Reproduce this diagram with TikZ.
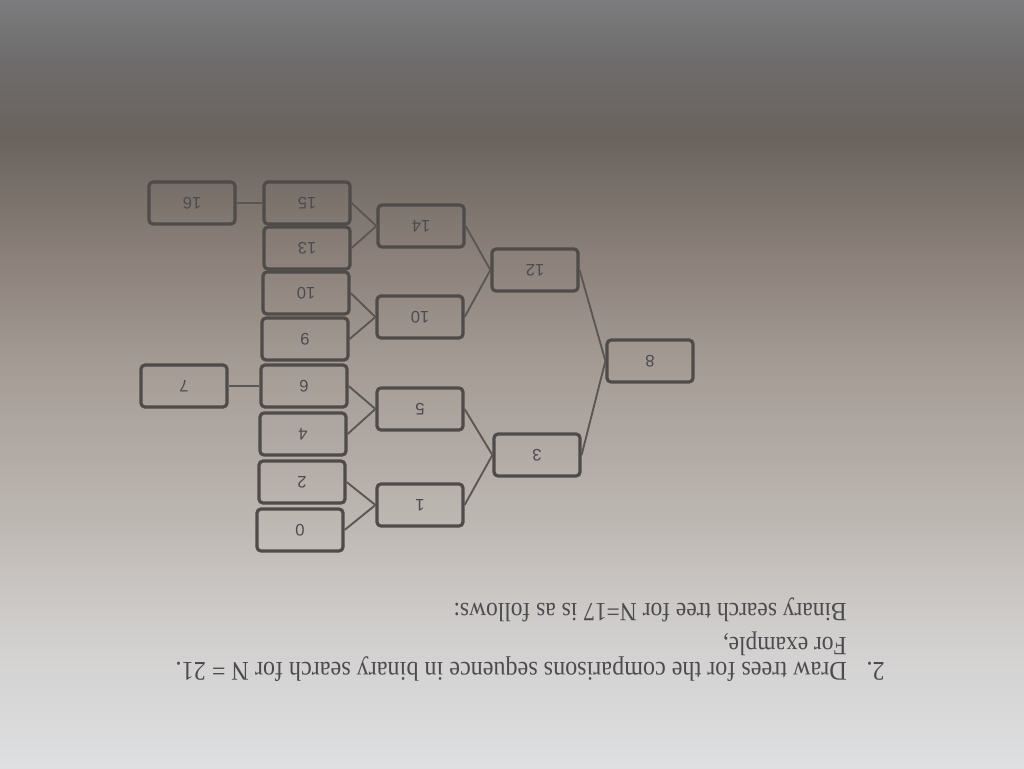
\documentclass[tikz,border=0pt]{standalone}
\usepackage{fontspec}
\setmainfont{Liberation Serif}
\newfontfamily\boxfont{Liberation Sans}
\definecolor{boxgray}{HTML}{4E4B49}
\definecolor{linegray}{HTML}{5A5653}
\definecolor{inkgray}{HTML}{4C4C50}
\pgfdeclareverticalshading{pagebg}{100bp}{%
  color(0bp)=(rgb,255:red,222;green,223;blue,225);
  color(25bp)=(rgb,255:red,222;green,223;blue,225);
  color(33.3bp)=(rgb,255:red,210;green,208;blue,207);
  color(41.1bp)=(rgb,255:red,189;green,183;blue,178);
  color(51.6bp)=(rgb,255:red,163;green,154;blue,147);
  color(59bp)=(rgb,255:red,136;green,126;blue,119);
  color(66bp)=(rgb,255:red,106;green,99;blue,94);
  color(71bp)=(rgb,255:red,110;green,108;blue,108);
  color(75bp)=(rgb,255:red,124;green,124;blue,126);
  color(100bp)=(rgb,255:red,124;green,124;blue,126)}
\tikzset{
  numbox/.style={draw=boxgray, line width=2.4pt, rounded corners=3pt,
    minimum width=64.5pt, minimum height=31.5pt, rotate=180,
    text=inkgray, font=\boxfont\fontsize{12.5}{14}\selectfont},
  branch/.style={draw=linegray, line width=1.4pt},
  pagetext/.style={rotate=180, yscale=1.12, anchor=base west, inner sep=0pt,
    text=inkgray, font=\fontsize{17.6}{20}\selectfont}
}
\begin{document}
\begin{tikzpicture}[x=0.75pt,y=-0.75pt]
  \useasboundingbox (0,0) rectangle (1024,768);
  \shade[shading=pagebg] (0,0) rectangle (1024,768);
  % the page is photographed upside down
  \node[pagetext, font=\fontsize{18.1}{20}\selectfont] (item) at (885,662) {\makebox[28.5pt][l]{2.}Draw trees for the comparisons sequence in binary search for N = 21.};
  \node[pagetext] (ex) at (847,637) {For example,};
  \node[pagetext] (intro) at (847,603) {Binary search tree for N=17 is as follows:};
  % tree
  \node[numbox] (n8) at (650,361) {8};
  \node[numbox] (n3) at (537,455) {3};
  \node[numbox] (n12) at (535,270) {12};
  \node[numbox] (n1) at (420,505) {1};
  \node[numbox] (n5) at (420,409) {5};
  \node[numbox] (n10) at (420,317) {10};
  \node[numbox] (n14) at (421,226) {14};
  \node[numbox] (n0) at (300,530) {0};
  \node[numbox] (n2) at (302,482) {2};
  \node[numbox] (n4) at (303,434) {4};
  \node[numbox] (n6) at (304,386) {6};
  \node[numbox] (n9) at (305,339) {9};
  \node[numbox] (n10leaf) at (306,293) {10};
  \node[numbox] (n13) at (307,248) {13};
  \node[numbox] (n15) at (307,203) {15};
  \node[numbox] (n7) at (184,386) {7};
  \node[numbox] (n16) at (192,203) {16};
  \draw[branch] (n3.west) -- (n8.east) -- (n12.west);
  \draw[branch] (n1.west) -- (n3.east) -- (n5.west);
  \draw[branch] (n10.west) -- (n12.east) -- (n14.west);
  \draw[branch] (n0.west) -- (n1.east) -- (n2.west);
  \draw[branch] (n4.west) -- (n5.east) -- (n6.west);
  \draw[branch] (n9.west) -- (n10.east) -- (n10leaf.west);
  \draw[branch] (n13.west) -- (n14.east) -- (n15.west);
  \draw[branch] (n6.east) -- (n7.west);
  \draw[branch] (n15.east) -- (n16.west);
\end{tikzpicture}
\end{document}
